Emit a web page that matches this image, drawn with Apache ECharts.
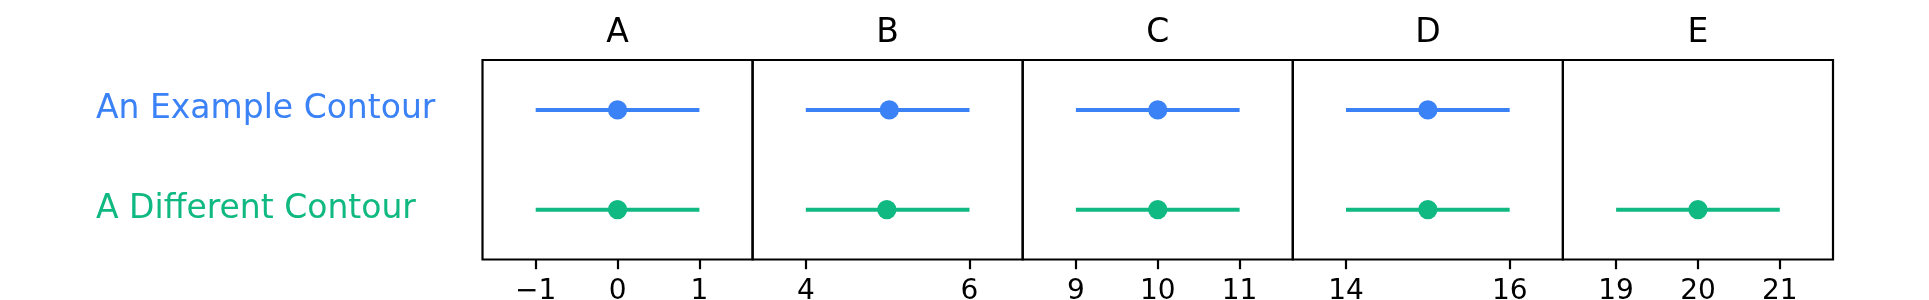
<!DOCTYPE html>
<html>
<head>
<meta charset="utf-8">
<script src="https://cdn.jsdelivr.net/npm/echarts@6/dist/echarts.min.js"></script>
<style>
html,body{margin:0;padding:0;background:#fff;}
#c{width:1929px;height:300px;}
</style>
</head>
<body>
<div id="c"></div>
<script>
const categories = ['An Example Contour', 'A Different Contour'];
const panelTitles = ['A', 'B', 'C', 'D', 'E'];
const seriesColors = ['#3b82f6', '#10b981'];
// per panel: [low, mean, high], null = missing
const exampleLow  = [-1, 4, 9, 14, null];
const exampleMean = [0, 5.02, 10, 15, null];
const exampleHigh = [1, 6, 11, 16, null];
const differentLow  = [-1, 4, 9, 14, 19];
const differentMean = [0, 4.99, 10, 15, 20];
const differentHigh = [1, 6, 11, 16, 21];
const xMin = [-1.65, 3.35, 8.35, 13.35, 18.35];
const xMax = [1.65, 6.65, 11.65, 16.65, 21.65];
const xTicks = [[-1, 0, 1], [4, 6], [9, 10, 11], [14, 16], [19, 20, 21]];

const FONT = 'DejaVu Sans';
const gridLeft0 = 482.5, gridW = 270.1, gridTop = 60, gridH = 199.5;

const grids = [], xAxes = [], yAxes = [], series = [], titles = [];
for (let i = 0; i < panelTitles.length; i++) {
  const left = gridLeft0 + gridW * i;
  grids.push({left: left, top: gridTop, width: gridW, height: gridH, show: true,
    borderColor: '#000', borderWidth: 2.2, backgroundColor: 'transparent', containLabel: false,
    outerBoundsMode: 'none'});
  xAxes.push({type: 'value', gridIndex: i, min: xMin[i], max: xMax[i],
    axisLine: {show: false}, splitLine: {show: false},
    axisTick: {show: true, length: 9.7, lineStyle: {color: '#000', width: 2.2}, customValues: xTicks[i]},
    axisLabel: {show: true, fontFamily: FONT, fontSize: 28, color: '#000', margin: 18,
      customValues: xTicks[i], formatter: v => (v < 0 ? '\u2212' + Math.abs(v) : String(v))}});
  yAxes.push({type: 'category', gridIndex: i, data: categories, inverse: true,
    axisLine: {show: false}, axisTick: {show: false}, splitLine: {show: false},
    axisLabel: i === 0 ? {show: true, fontFamily: FONT, fontSize: 33, align: 'left',
      margin: gridLeft0 - 96, padding: [0, 0, 6, 0],
      color: (v, idx) => seriesColors[idx]} : {show: false}});
  titles.push({text: panelTitles[i], left: left + gridW / 2, top: 17, textAlign: 'center', padding: 0,
    textStyle: {fontFamily: FONT, fontSize: 33, fontWeight: 'normal', color: '#000'}});
  const sets = [[exampleLow, exampleMean, exampleHigh], [differentLow, differentMean, differentHigh]];
  sets.forEach((s, k) => {
    if (s[1][i] == null) return;
    series.push({type: 'custom', xAxisIndex: i, yAxisIndex: i, silent: true,
      data: [[s[0][i], k, s[2][i], s[1][i]]],
      encode: {x: [0, 2, 3], y: 1},
      renderItem: (params, api) => {
        const y = api.value(1);
        const p1 = api.coord([api.value(0), y]);
        const p2 = api.coord([api.value(2), y]);
        const pm = api.coord([api.value(3), y]);
        return {type: 'group', children: [
          {type: 'line', shape: {x1: p1[0], y1: p1[1], x2: p2[0], y2: p2[1]},
            style: {stroke: seriesColors[k], lineWidth: 4}},
          {type: 'circle', shape: {cx: pm[0], cy: pm[1], r: 9.6}, style: {fill: seriesColors[k]}}
        ]};
      }});
  });
}

const chart = echarts.init(document.getElementById('c'), null, {renderer: 'canvas'});
chart.setOption({animation: false, backgroundColor: '#fff', title: titles,
  grid: grids, xAxis: xAxes, yAxis: yAxes, series: series});
</script>
</body>
</html>
